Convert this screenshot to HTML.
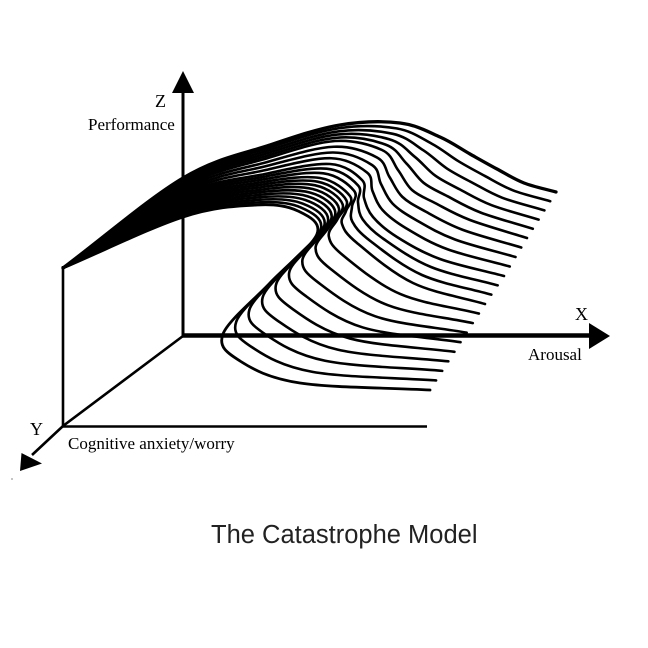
<!DOCTYPE html>
<html><head><meta charset="utf-8">
<style>
html,body{margin:0;padding:0;background:#fff;}
body{width:648px;height:648px;overflow:hidden;position:relative;}
svg{position:absolute;left:0;top:0;}
</style></head><body>
<svg id="s" width="648" height="648" viewBox="0 0 648 648" xmlns="http://www.w3.org/2000/svg">
<rect x="0" y="0" width="648" height="648" fill="#fff"/>
<g stroke="#000" fill="none" stroke-linecap="butt">
<line x1="183" y1="337" x2="183" y2="90" stroke-width="3"/>
<line x1="63" y1="427.5" x2="63" y2="266" stroke-width="2.6"/>
<line x1="62" y1="426.5" x2="427" y2="426.5" stroke-width="2.6"/>
<polyline points="183,336 63,426 32,455" stroke-width="2.6"/>
<line x1="182" y1="335.5" x2="592" y2="335.5" stroke-width="4.5"/>
</g>
<g id="surf" fill="none" stroke="#000" stroke-linecap="round" stroke-linejoin="round"></g>
<polygon points="172,93 194,93 183,71" fill="#000"/>
<polygon points="589,323 589,349 610,336" fill="#000"/>
<polygon points="20,471 21.5,453 42,463.5" fill="#000"/>
<rect x="11.5" y="478" width="1" height="2" fill="#888"/>
<g font-family="'Liberation Serif', serif" fill="#000">
<text x="155" y="107" font-size="18">Z</text>
<text x="88" y="130" font-size="17">Performance</text>
<text x="575" y="320" font-size="18">X</text>
<text x="528" y="360" font-size="17">Arousal</text>
<text x="30" y="435" font-size="18">Y</text>
<text x="68" y="449" font-size="17">Cognitive anxiety/worry</text>
</g>
<text x="211" y="543" font-family="'Liberation Sans', sans-serif" font-size="25.5" fill="#222">The Catastrophe Model</text>
</svg>
<script>
(function(){
var KEYS=[
 [0,[[63,268],[183,178],[270,145],[340,125],[400,123],[440,137],[470,154],[497,169],[524,183],[556,192]]],
 [5,[[63,268],[183,187.3],[268,158],[335,141],[382,150],[398,170],[412,190],[435,203],[470,220],[527,238]]],
 [9,[[63,268],[183,194.7],[265,174],[330,164],[362,180],[364,198],[373,217],[397,237],[440,259],[504,276]]],
 [12,[[63,268],[183,200.3],[263,182],[320,178],[350,196],[346,211],[342,224],[357,243],[413,283],[485,304]]],
 [21,[[63,268],[183,217],[257,205],[298,211],[317,234],[270,283],[223,334],[240,361],[300,383],[430,390]]]
];
var N=22,g=document.getElementById('surf'),ns='http://www.w3.org/2000/svg';
function f(v){return v.toFixed(2);}
function pts(i){
 for(var j=0;j<KEYS.length-1;j++){
  var a=KEYS[j],b=KEYS[j+1];
  if(i>=a[0]&&i<=b[0]){
   var s=(i-a[0])/(b[0]-a[0]);
   return a[1].map(function(p,k){return [p[0]+(b[1][k][0]-p[0])*s,p[1]+(b[1][k][1]-p[1])*s];});
  }
 }
}
for(var i=0;i<N;i++){
 var P=pts(i);
 var n=P.length;
 var ext=[[2*P[0][0]-P[1][0],2*P[0][1]-P[1][1]]].concat(P).concat([[2*P[n-1][0]-P[n-2][0],2*P[n-1][1]-P[n-2][1]]]);
 var d='M'+f(P[0][0])+','+f(P[0][1]);
 for(var k=1;k<n;k++){
  var p0=ext[k-1],p1=ext[k],p2=ext[k+1],p3=ext[k+2];
  var c1=[p1[0]+(p2[0]-p0[0])/6,p1[1]+(p2[1]-p0[1])/6];
  var c2=[p2[0]-(p3[0]-p1[0])/6,p2[1]-(p3[1]-p1[1])/6];
  d+=' C'+f(c1[0])+','+f(c1[1])+' '+f(c2[0])+','+f(c2[1])+' '+f(p2[0])+','+f(p2[1]);
 }
 var el=document.createElementNS(ns,'path');
 el.setAttribute('d',d);
 el.setAttribute('stroke-width',i===0?3.3:(i===N-1?2.8:2.6));
 g.appendChild(el);
}
})();
</script>
</body></html>
